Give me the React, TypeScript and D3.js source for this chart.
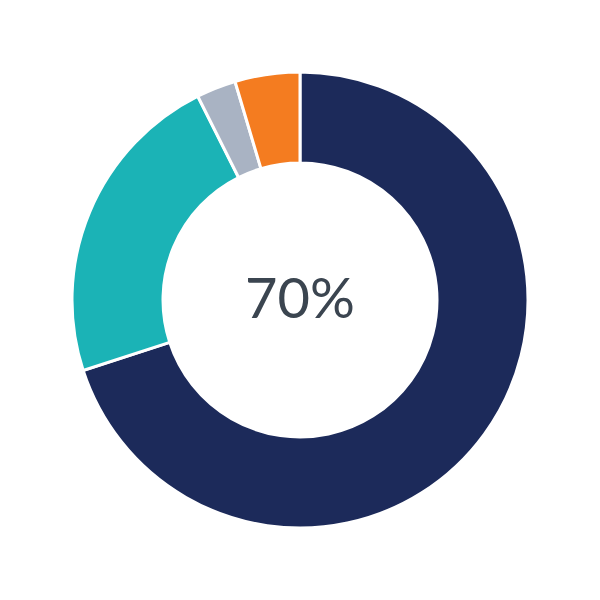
import { useEffect, useRef } from "react";
import * as d3 from "d3";

// slice order: clockwise from 12 o'clock
const labels = ["Navy", "Teal", "Gray", "Orange"];
const values = [70, 22.6, 2.8, 4.6];
const colors = ["#1c2a5a", "#1bb3b6", "#a9b3c3", "#f47c20"];
const centerLabel = "70%";

const App = () => {
  const svgRef = useRef<SVGSVGElement>(null);

  useEffect(() => {
    if (!svgRef.current) return;
    const svg = d3.select(svgRef.current);
    svg.selectAll("*").remove();

    const width = 600;
    const height = 600;
    const outer = 228;
    const inner = 137;

    const g = svg
      .append("g")
      .attr("transform", `translate(${width / 2},${height / 2})`);

    const pie = d3
      .pie<number>()
      .sort(null)
      .value((d) => d);

    const arc = d3
      .arc<d3.PieArcDatum<number>>()
      .innerRadius(inner)
      .outerRadius(outer);

    g.selectAll("path")
      .data(pie(values))
      .enter()
      .append("path")
      .attr("d", arc)
      .attr("fill", (_, i) => colors[i])
      .attr("stroke", "white")
      .attr("stroke-width", 3)
      .append("title")
      .text((d, i) => `${labels[i]}: ${d.data}%`);

    g.append("text")
      .attr("text-anchor", "middle")
      .attr("y", 18)
      .attr("font-family", "Lato, sans-serif")
      .attr("font-weight", 400)
      .attr("font-size", 56)
      .attr("fill", "#3b4550")
      .text(centerLabel);
  }, []);

  return (
    <svg
      ref={svgRef}
      width={600}
      height={600}
      style={{ position: "absolute", left: 0, top: 0, background: "white" }}
    />
  );
};

export default App;
